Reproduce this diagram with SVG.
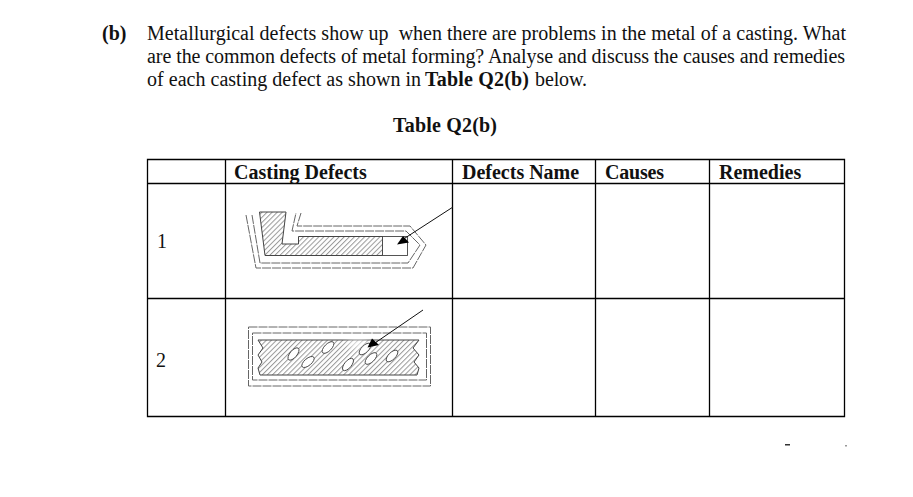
<svg xmlns="http://www.w3.org/2000/svg" width="913" height="497" viewBox="0 0 913 497">
<style>
text{font-family:"Liberation Serif","Times New Roman",serif;font-size:20px;fill:#111}
.b{font-weight:bold}
.g{stroke:#000;stroke-width:1.3;fill:none}
.m{stroke:#444;stroke-width:1;fill:url(#h)}
.d{stroke:#666;stroke-width:1;fill:none;stroke-dasharray:9 1}
.p{stroke:#444;stroke-width:.9;fill:#fff}
.a{stroke:#111;stroke-width:1;fill:none}
</style>
<defs>
<pattern id="h" width="3.6" height="3.6" patternUnits="userSpaceOnUse" patternTransform="rotate(45)"><rect width="3.6" height="3.6" fill="#fff"/><rect width="1" height="3.6" fill="#999"/></pattern>
<filter id="f" x="-50%" y="-50%" width="200%" height="200%"><feGaussianBlur stdDeviation="3"/></filter>
</defs>
<rect width="913" height="497" fill="#fff"/>
<g id="question">
<text class="b" x="102" y="39.500">(b)</text>
<text x="147" y="39.500" textLength="699" xml:space="preserve">Metallurgical defects show up  when there are problems in the metal of a casting. What</text>
<text x="147" y="62.500" textLength="698">are the common defects of metal forming? Analyse and discuss the causes and remedies</text>
<text x="147" y="85.500" textLength="274">of each casting defect as shown in</text>
<text class="b" x="425" y="85.500" textLength="104">Table Q2(b)</text>
<text x="535" y="85.500" textLength="52">below.</text>
<text class="b" x="393" y="131.500" textLength="104">Table Q2(b)</text>
</g>
<g id="table">
<path class="g" d="M147.500 159.500H844.500V416.500H147.500ZM147.500 183.500H844.500M147.500 298.500H844.500M225.500 159.500V416.500M452.500 159.500V416.500M595.500 159.500V416.500M709.500 159.500V416.500"/>
<text class="b" x="234" y="179">Casting Defects</text>
<text class="b" x="462" y="179">Defects Name</text>
<text class="b" x="605" y="179" textLength="59">Causes</text>
<text class="b" x="719" y="179">Remedies</text>
<text x="157" y="248">1</text>
<text x="156" y="367">2</text>
</g>
<g id="defect-1">
<path class="d" d="M246 215L256 268H413L426 245L410 226H297L301 213"/>
<path class="d" d="M252 215L260 263H408L420 245L406 231H292L296 213"/>
<path class="m" d="M259.500 212H286L282 244H298.500V236.500H382.500V255.500H265Z"/>
<rect class="p" x="382.500" y="236.500" width="25" height="19"/>
<path class="a" d="M453 207L402 240"/>
<path d="M397 244.500L403 236L409 242.500Z" fill="#000"/>
</g>
<g id="defect-2">
<rect class="d" x="248.500" y="327" width="182" height="59"/>
<rect class="d" x="252.500" y="333" width="174" height="47"/>
<path class="m" d="M258 340H419L413 348L419 355L414 362L419 368L417 375H260L258 368L262 362L258 355L263 348Z"/>
<ellipse cx="358" cy="344" rx="12" ry="4" fill="#fff" fill-opacity=".8" filter="url(#f)"/>
<g class="p">
<ellipse cx="293.500" cy="354" rx="7.500" ry="3.500" transform="rotate(-50 293.500 354)"/>
<ellipse cx="308" cy="362" rx="7.500" ry="3.500" transform="rotate(-40 308 362)"/>
<ellipse cx="328" cy="347.500" rx="7.500" ry="3.500" transform="rotate(-45 328 347.500)"/>
<ellipse cx="348" cy="364.500" rx="7.500" ry="3.500" transform="rotate(-50 348 364.500)"/>
<ellipse cx="365" cy="349" rx="7.500" ry="3.500" transform="rotate(-45 365 349)"/>
<ellipse cx="371" cy="358.500" rx="7.500" ry="3.500" transform="rotate(-45 371 358.500)"/>
<ellipse cx="392" cy="356" rx="7.500" ry="3.500" transform="rotate(-45 392 356)"/>
</g>
<path class="a" d="M423 310L372 345"/>
<path d="M367.500 347.500L372 338.500L379 345Z" fill="#000"/>
</g>
<g id="specks">
<rect x="785" y="444" width="5" height="1.500" fill="#333"/>
<rect x="845" y="445" width="2" height="1.500" fill="#999"/>
</g>
</svg>
